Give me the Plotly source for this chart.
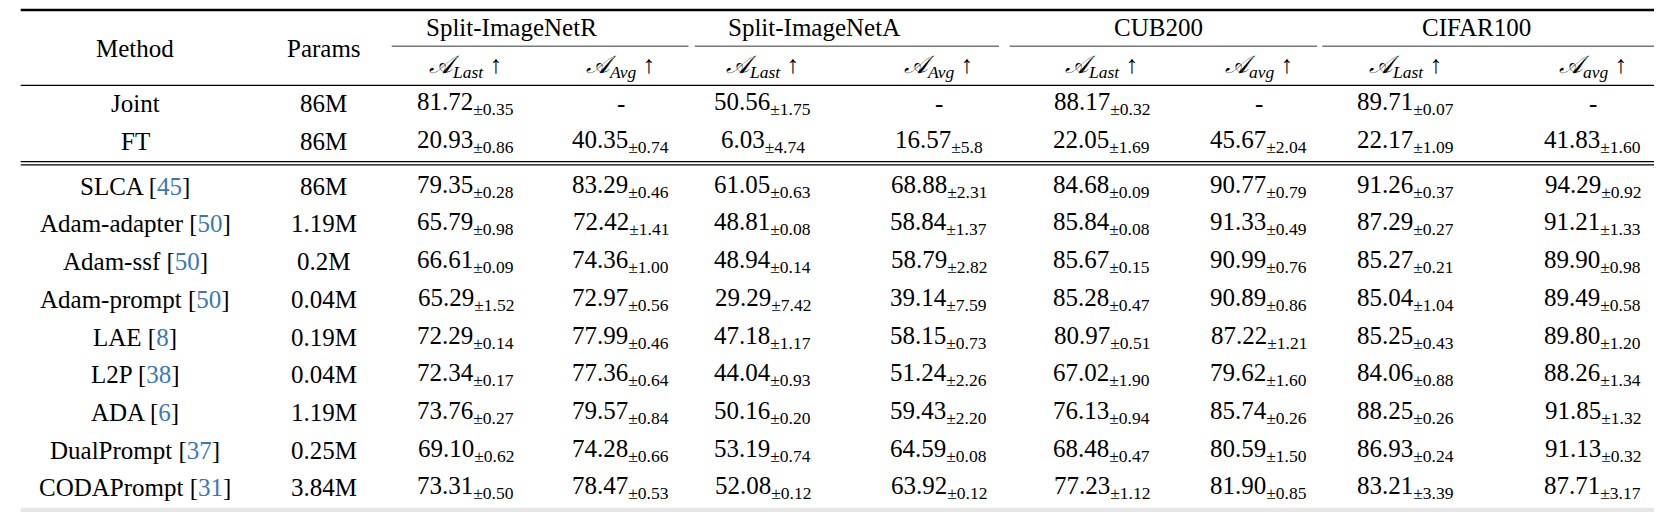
import plotly.graph_objects as go

methods = ["Joint", "FT", "SLCA", "Adam-adapter", "Adam-ssf", "Adam-prompt", "LAE", "L2P", "ADA", "DualPrompt", "CODAPrompt", "SSIAT (Ours)"]
refs = ["", "", "45", "50", "50", "50", "8", "38", "6", "37", "31", ""]
params = ["86M", "86M", "86M", "1.19M", "0.2M", "0.04M", "0.19M", "0.04M", "1.19M", "0.25M", "3.84M", "1.19M"]
groups = ["Split-ImageNetR", "Split-ImageNetA", "CUB200", "CIFAR100"]
sub_headers = ["Last", "Avg", "Last", "Avg", "Last", "avg", "Last", "avg"]
values = [
    [("81.72","0.35"),("-",""),("50.56","1.75"),("-",""),("88.17","0.32"),("-",""),("89.71","0.07"),("-","")],
    [("20.93","0.86"),("40.35","0.74"),("6.03","4.74"),("16.57","5.8"),("22.05","1.69"),("45.67","2.04"),("22.17","1.09"),("41.83","1.60")],
    [("79.35","0.28"),("83.29","0.46"),("61.05","0.63"),("68.88","2.31"),("84.68","0.09"),("90.77","0.79"),("91.26","0.37"),("94.29","0.92")],
    [("65.79","0.98"),("72.42","1.41"),("48.81","0.08"),("58.84","1.37"),("85.84","0.08"),("91.33","0.49"),("87.29","0.27"),("91.21","1.33")],
    [("66.61","0.09"),("74.36","1.00"),("48.94","0.14"),("58.79","2.82"),("85.67","0.15"),("90.99","0.76"),("85.27","0.21"),("89.90","0.98")],
    [("65.29","1.52"),("72.97","0.56"),("29.29","7.42"),("39.14","7.59"),("85.28","0.47"),("90.89","0.86"),("85.04","1.04"),("89.49","0.58")],
    [("72.29","0.14"),("77.99","0.46"),("47.18","1.17"),("58.15","0.73"),("80.97","0.51"),("87.22","1.21"),("85.25","0.43"),("89.80","1.20")],
    [("72.34","0.17"),("77.36","0.64"),("44.04","0.93"),("51.24","2.26"),("67.02","1.90"),("79.62","1.60"),("84.06","0.88"),("88.26","1.34")],
    [("73.76","0.27"),("79.57","0.84"),("50.16","0.20"),("59.43","2.20"),("76.13","0.94"),("85.74","0.26"),("88.25","0.26"),("91.85","1.32")],
    [("69.10","0.62"),("74.28","0.66"),("53.19","0.74"),("64.59","0.08"),("68.48","0.47"),("80.59","1.50"),("86.93","0.24"),("91.13","0.32")],
    [("73.31","0.50"),("78.47","0.53"),("52.08","0.12"),("63.92","0.12"),("77.23","1.12"),("81.90","0.85"),("83.21","3.39"),("87.71","3.17")],
    [("79.38","0.59"),("83.63","0.43"),("62.43","1.63"),("70.83","1.63"),("88.75","0.38"),("93.00","0.90"),("91.35","0.26"),("94.35","0.60")],
]

W, H = 1662, 512
S = 1662 / 1568
FONT = "Liberation Serif, Times New Roman, serif"
FS = 25
col_x = [v * S for v in [432, 578, 712, 878, 1032, 1180, 1318, 1495]]
group_x = [v * S for v in [475, 760, 1085, 1385]]
group_span = [(v0 * S, v1 * S) for v0, v1 in [(362, 642), (648, 935), (945, 1235), (1240, 1562)]]
row_y = [v * S for v in [90, 126] + [168 + i * 35.6 for i in range(10)]]

fig = go.Figure()
ann = []
def txt(x, y, t, size=FS):
    ann.append(dict(x=x, y=y, xref="x", yref="y", text=t, showarrow=False,
                    font=dict(family=FONT, size=size, color="black"),
                    xanchor="center", yanchor="middle"))

shapes = []
shapes.append(dict(type="rect", x0=12 * S, x1=1560 * S, y0=row_y[-1] - 18, y1=row_y[-1] + 19,
                   xref="x", yref="y", fillcolor="#e6e6e6", line=dict(width=0), layer="below"))
def hline(y, x0=12 * S, x1=1560 * S, w=1.2):
    shapes.append(dict(type="line", x0=x0, x1=x1, y0=y, y1=y, xref="x", yref="y",
                       line=dict(color="black", width=w)))
hline(2, w=2.5); hline(73 * S); hline(145 * S); hline(148 * S); hline(510, w=2.5)
for a, b in group_span:
    hline(36 * S, a, b, w=0.8)

txt(120 * S, 38 * S, "Method"); txt(298 * S, 38 * S, "Params")
for gx, g in zip(group_x, groups):
    txt(gx, 18 * S, g)
for cx, s in zip(col_x, sub_headers):
    txt(cx, 55 * S, "<i>𝒜</i><sub><i>" + s + "</i></sub> ↑")

for i, (m, r, p, vals) in enumerate(zip(methods, refs, params, values)):
    y = row_y[i]
    label = m + " [<span style='color:#3a78b5'>" + r + "</span>]" if r else m
    if i == len(methods) - 1:
        label = "<b>" + label + "</b>"
    txt(120 * S, y, label)
    txt(298 * S, y, p)
    for cx, (v, e) in zip(col_x, vals):
        txt(cx, y, v + "<sub>±" + e + "</sub>" if e else v)

fig.update_layout(width=W, height=H, margin=dict(l=0, r=0, t=0, b=0),
                  plot_bgcolor="white", paper_bgcolor="white",
                  xaxis=dict(range=[0, W], visible=False, fixedrange=True),
                  yaxis=dict(range=[H, 0], visible=False, fixedrange=True),
                  annotations=ann, shapes=shapes, showlegend=False)
fig.write_html("out.html")
